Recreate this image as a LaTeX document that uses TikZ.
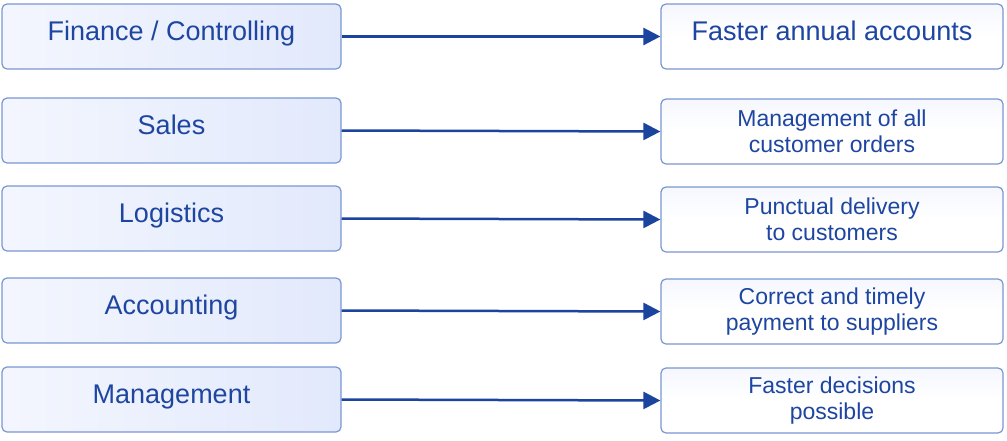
\documentclass[tikz,border=0pt]{standalone}
\usepackage{fontspec}
\setmainfont{Liberation Sans}
\usetikzlibrary{arrows.meta}
\definecolor{tx}{HTML}{1E46A0}
\definecolor{bd}{HTML}{7A96D2}
\definecolor{fl}{HTML}{E2E9FC}
\definecolor{ar}{HTML}{1B449E}
\tikzset{
  lbox/.style={draw=bd,line width=1.2pt,rounded corners=5pt,left color=fl!40,right color=fl,minimum width=339pt,minimum height=65pt,text=tx,font=\fontsize{27}{30}\selectfont,text height=0.72em,text depth=0pt},
  rbox/.style={draw=bd,line width=1.2pt,rounded corners=5pt,top color=fl!35,bottom color=white,middle color=white,minimum width=342pt,minimum height=65pt,text=tx,align=center,font=\fontsize{23}{26}\selectfont},
  conn/.style={draw=ar,line width=2.5pt,-{Triangle[length=17pt,width=17pt]}}
}
\begin{document}
\begin{tikzpicture}[x=1pt,y=-1pt]
\useasboundingbox (0,0) rectangle (1007,440);
\node[lbox] (l1) at (171.5,36.5) {Finance / Controlling};
\node[rbox,font=\fontsize{27}{30}\selectfont,text height=0.72em,text depth=0pt] (r1) at (832,36.5) {Faster annual accounts};
\node[lbox] (l2) at (171.5,130.5) {Sales};
\node[rbox] (r2) at (832,131.5) {Management of all\\customer orders};
\node[lbox] (l3) at (171.5,218.5) {Logistics};
\node[rbox] (r3) at (832,219.5) {Punctual delivery\\to customers};
\node[lbox] (l4) at (171.5,310.5) {Accounting};
\node[rbox] (r4) at (832,311.5) {Correct and timely\\payment to suppliers};
\node[lbox] (l5) at (171.5,399.5) {Management};
\node[rbox] (r5) at (832,400.5) {Faster decisions\\possible};
\foreach \i in {1,...,5}{\draw[conn] (l\i.east) -- (r\i.west);}
\end{tikzpicture}
\end{document}
